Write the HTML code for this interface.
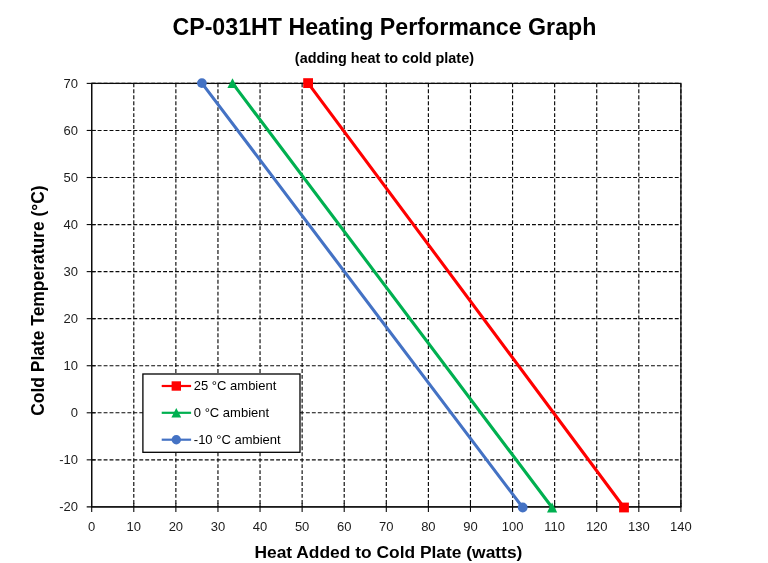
<!DOCTYPE html><html><head><meta charset="utf-8"><title>CP-031HT Heating Performance Graph</title>
<style>html,body{margin:0;padding:0;background:#fff;}svg{display:block;will-change:transform;}text{font-family:"Liberation Sans",sans-serif;}</style></head><body>
<svg width="768" height="563" viewBox="0 0 768 563">
<rect width="768" height="563" fill="#ffffff"/>
<text x="384.4" y="34.7" font-size="23.2" font-weight="bold" text-anchor="middle" fill="#000">CP-031HT Heating Performance Graph</text>
<text x="384.4" y="62.6" font-size="14.4" font-weight="bold" text-anchor="middle" fill="#000">(adding heat to cold plate)</text>
<text x="388.4" y="557.9" font-size="17.4" font-weight="bold" text-anchor="middle" fill="#000">Heat Added to Cold Plate (watts)</text>
<text transform="translate(43.7,300.6) rotate(-90)" font-size="17.46" font-weight="bold" text-anchor="middle" fill="#000">Cold Plate Temperature (°C)</text>
<g stroke="#0a0a0a" stroke-width="1.15" stroke-dasharray="3.9 2.05" fill="none">
<line x1="133.79" y1="83.40" x2="133.79" y2="506.90"/>
<line x1="175.87" y1="83.40" x2="175.87" y2="506.90"/>
<line x1="217.96" y1="83.40" x2="217.96" y2="506.90"/>
<line x1="260.04" y1="83.40" x2="260.04" y2="506.90"/>
<line x1="302.13" y1="83.40" x2="302.13" y2="506.90"/>
<line x1="344.21" y1="83.40" x2="344.21" y2="506.90"/>
<line x1="386.30" y1="83.40" x2="386.30" y2="506.90"/>
<line x1="428.39" y1="83.40" x2="428.39" y2="506.90"/>
<line x1="470.47" y1="83.40" x2="470.47" y2="506.90"/>
<line x1="512.56" y1="83.40" x2="512.56" y2="506.90"/>
<line x1="554.64" y1="83.40" x2="554.64" y2="506.90"/>
<line x1="596.73" y1="83.40" x2="596.73" y2="506.90"/>
<line x1="638.81" y1="83.40" x2="638.81" y2="506.90"/>
<line x1="680.90" y1="83.40" x2="680.90" y2="506.90"/>
<line x1="91.70" y1="83.40" x2="680.90" y2="83.40"/>
<line x1="91.70" y1="130.46" x2="680.90" y2="130.46"/>
<line x1="91.70" y1="177.51" x2="680.90" y2="177.51"/>
<line x1="91.70" y1="224.57" x2="680.90" y2="224.57"/>
<line x1="91.70" y1="271.62" x2="680.90" y2="271.62"/>
<line x1="91.70" y1="318.68" x2="680.90" y2="318.68"/>
<line x1="91.70" y1="365.73" x2="680.90" y2="365.73"/>
<line x1="91.70" y1="412.79" x2="680.90" y2="412.79"/>
<line x1="91.70" y1="459.84" x2="680.90" y2="459.84"/>
</g>
<rect x="91.70" y="83.40" width="589.20" height="423.50" fill="none" stroke="#0a0a0a" stroke-width="1.25"/>
<g stroke="#0a0a0a" stroke-width="1.1" fill="none">
<line x1="91.70" y1="83.40" x2="91.70" y2="511.90"/>
<line x1="86.70" y1="506.90" x2="680.90" y2="506.90"/>
<line x1="133.79" y1="502.90" x2="133.79" y2="511.90"/>
<line x1="175.87" y1="502.90" x2="175.87" y2="511.90"/>
<line x1="217.96" y1="502.90" x2="217.96" y2="511.90"/>
<line x1="260.04" y1="502.90" x2="260.04" y2="511.90"/>
<line x1="302.13" y1="502.90" x2="302.13" y2="511.90"/>
<line x1="344.21" y1="502.90" x2="344.21" y2="511.90"/>
<line x1="386.30" y1="502.90" x2="386.30" y2="511.90"/>
<line x1="428.39" y1="502.90" x2="428.39" y2="511.90"/>
<line x1="470.47" y1="502.90" x2="470.47" y2="511.90"/>
<line x1="512.56" y1="502.90" x2="512.56" y2="511.90"/>
<line x1="554.64" y1="502.90" x2="554.64" y2="511.90"/>
<line x1="596.73" y1="502.90" x2="596.73" y2="511.90"/>
<line x1="638.81" y1="502.90" x2="638.81" y2="511.90"/>
<line x1="680.90" y1="502.90" x2="680.90" y2="511.90"/>
<line x1="86.70" y1="83.40" x2="95.70" y2="83.40"/>
<line x1="86.70" y1="130.46" x2="95.70" y2="130.46"/>
<line x1="86.70" y1="177.51" x2="95.70" y2="177.51"/>
<line x1="86.70" y1="224.57" x2="95.70" y2="224.57"/>
<line x1="86.70" y1="271.62" x2="95.70" y2="271.62"/>
<line x1="86.70" y1="318.68" x2="95.70" y2="318.68"/>
<line x1="86.70" y1="365.73" x2="95.70" y2="365.73"/>
<line x1="86.70" y1="412.79" x2="95.70" y2="412.79"/>
<line x1="86.70" y1="459.84" x2="95.70" y2="459.84"/>
</g>
<g font-size="13" fill="#1c1c1c">
<text x="91.70" y="531.0" text-anchor="middle">0</text>
<text x="133.79" y="531.0" text-anchor="middle">10</text>
<text x="175.87" y="531.0" text-anchor="middle">20</text>
<text x="217.96" y="531.0" text-anchor="middle">30</text>
<text x="260.04" y="531.0" text-anchor="middle">40</text>
<text x="302.13" y="531.0" text-anchor="middle">50</text>
<text x="344.21" y="531.0" text-anchor="middle">60</text>
<text x="386.30" y="531.0" text-anchor="middle">70</text>
<text x="428.39" y="531.0" text-anchor="middle">80</text>
<text x="470.47" y="531.0" text-anchor="middle">90</text>
<text x="512.56" y="531.0" text-anchor="middle">100</text>
<text x="554.64" y="531.0" text-anchor="middle">110</text>
<text x="596.73" y="531.0" text-anchor="middle">120</text>
<text x="638.81" y="531.0" text-anchor="middle">130</text>
<text x="680.90" y="531.0" text-anchor="middle">140</text>
<text x="78" y="87.70" text-anchor="end">70</text>
<text x="78" y="134.76" text-anchor="end">60</text>
<text x="78" y="181.81" text-anchor="end">50</text>
<text x="78" y="228.87" text-anchor="end">40</text>
<text x="78" y="275.92" text-anchor="end">30</text>
<text x="78" y="322.98" text-anchor="end">20</text>
<text x="78" y="370.03" text-anchor="end">10</text>
<text x="78" y="417.09" text-anchor="end">0</text>
<text x="78" y="464.14" text-anchor="end">-10</text>
<text x="78" y="511.20" text-anchor="end">-20</text>
</g>
<line x1="308.1" y1="83.1" x2="624.0" y2="507.5" stroke="#ff0000" stroke-width="3.1" stroke-linecap="round"/>
<line x1="232.5" y1="83.1" x2="552.1" y2="507.5" stroke="#00b050" stroke-width="3.1" stroke-linecap="round"/>
<line x1="201.9" y1="83.1" x2="522.7" y2="507.5" stroke="#4472c4" stroke-width="3.1" stroke-linecap="round"/>
<rect x="303.20" y="78.20" width="9.8" height="9.8" fill="#ff0000"/>
<rect x="619.10" y="502.60" width="9.8" height="9.8" fill="#ff0000"/>
<path d="M232.50 78.20 L237.60 88.00 L227.40 88.00 Z" fill="#00b050"/>
<path d="M552.10 502.60 L557.20 512.40 L547.00 512.40 Z" fill="#00b050"/>
<circle cx="201.90" cy="83.10" r="4.9" fill="#4472c4"/>
<circle cx="522.70" cy="507.50" r="4.9" fill="#4472c4"/>
<rect x="142.9" y="374.0" width="157.1" height="78.3" fill="#fff" stroke="#000" stroke-width="1.3"/>
<line x1="161.7" y1="386.0" x2="191.1" y2="386.0" stroke="#ff0000" stroke-width="2.2"/>
<rect x="171.60" y="381.30" width="9.4" height="9.4" fill="#ff0000"/>
<text x="193.8" y="390.2" font-size="13" fill="#000">25 °C ambient</text>
<line x1="161.7" y1="412.8" x2="191.1" y2="412.8" stroke="#00b050" stroke-width="2.2"/>
<path d="M176.30 408.10 L181.20 417.50 L171.40 417.50 Z" fill="#00b050"/>
<text x="193.8" y="417.0" font-size="13" fill="#000">0 °C ambient</text>
<line x1="161.7" y1="439.7" x2="191.1" y2="439.7" stroke="#4472c4" stroke-width="2.2"/>
<circle cx="176.30" cy="439.70" r="4.7" fill="#4472c4"/>
<text x="193.8" y="443.9" font-size="13" fill="#000">-10 °C ambient</text>
</svg></body></html>
